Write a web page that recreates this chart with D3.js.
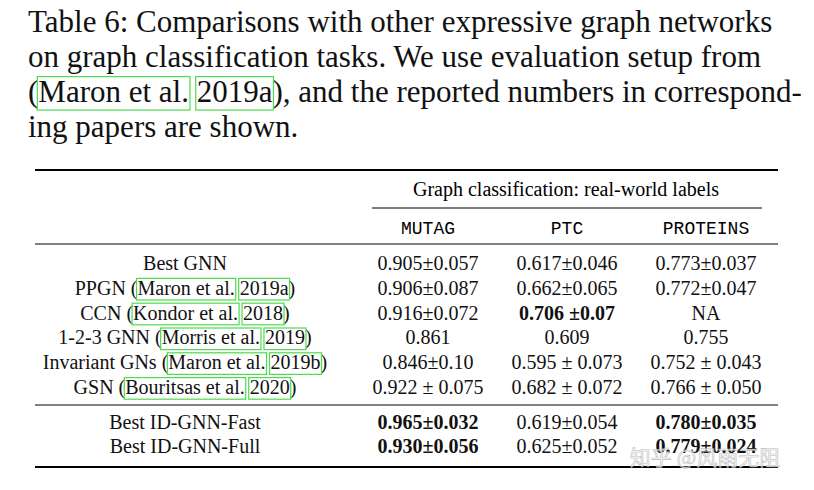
<!DOCTYPE html>
<html><head><meta charset="utf-8">
<script src="https://cdn.jsdelivr.net/npm/d3@7"></script>
<style>body{margin:0;background:#fff}</style>
</head><body>
<script>
const captionLines = [
  [["Table 6: Comparisons with other expressive graph networks",0]],
  [["on graph classification tasks. We use evaluation setup from",0]],
  [["(",0],["Maron et al.",1],[" ",0],["2019a",1],["), and the reported numbers in correspond-",0]],
  [["ing papers are shown.",0]]
];
const groupHeader = "Graph classification: real-world labels";
const columns = ["MUTAG","PTC","PROTEINS"];
const rowLabels = [
  [["Best GNN",0]],
  [["PPGN (",0],["Maron et al.",1],[" ",0],["2019a",1],[")",0]],
  [["CCN (",0],["Kondor et al.",1],[" ",0],["2018",1],[")",0]],
  [["1-2-3 GNN (",0],["Morris et al.",1],[" ",0],["2019",1],[")",0]],
  [["Invariant GNs (",0],["Maron et al.",1],[" ",0],["2019b",1],[")",0]],
  [["GSN (",0],["Bouritsas et al.",1],[" ",0],["2020",1],[")",0]],
  [["Best ID-GNN-Fast",0]],
  [["Best ID-GNN-Full",0]]
];
const mutag = ["0.905±0.057","0.906±0.087","0.916±0.072","0.861","0.846±0.10","0.922 ± 0.075","0.965±0.032","0.930±0.056"];
const ptc = ["0.617±0.046","0.662±0.065","0.706 ±0.07","0.609","0.595 ± 0.073","0.682 ± 0.072","0.619±0.054","0.625±0.052"];
const proteins = ["0.773±0.037","0.772±0.047","NA","0.755","0.752 ± 0.043","0.766 ± 0.050","0.780±0.035","0.779±0.024"];
const boldCells = [[6,0],[7,0],[2,1],[6,2],[7,2]];

const W=814,H=490;
const svg=d3.select("body").append("svg").attr("width",W).attr("height",H);
const serif="'Liberation Serif','Times New Roman',serif";
const green="#4ddc4d";

function richText(parts,x,y,size,anchor){
  const t=svg.append("text").attr("x",x).attr("y",y).attr("font-family",serif)
    .attr("font-size",size).attr("fill","#111").attr("text-anchor",anchor);
  parts.forEach(p=>t.append("tspan").text(p[0]));
  const node=t.node();
  const total=node.getComputedTextLength();
  const x0=anchor==="middle"?x-total/2:x;
  let off=0;
  parts.forEach(p=>{
    const len=p[0].length;
    if(p[1]){
      const sx=off>0?node.getSubStringLength(0,off):0;
      const w=node.getSubStringLength(off,len);
      svg.append("rect").attr("x",x0+sx-1).attr("y",y-size*0.82).attr("width",w+2)
        .attr("height",size*1.08).attr("fill","none").attr("stroke",green).attr("stroke-width",1.2);
    }
    off+=len;
  });
}

captionLines.forEach((l,i)=>richText(l,28,32+i*35,31,"start"));

const xL=35,xR=778;
svg.append("line").attr("x1",xL).attr("x2",xR).attr("y1",170).attr("y2",170).attr("stroke","#000").attr("stroke-width",2);
svg.append("text").attr("x",566).attr("y",196).attr("text-anchor","middle").attr("font-family",serif).attr("font-size",20).text(groupHeader);
svg.append("line").attr("x1",372).attr("x2",762).attr("y1",208).attr("y2",208).attr("stroke","#000").attr("stroke-width",1);

const xCol=d3.scalePoint().domain(columns).range([428,706]);
svg.selectAll(".ch").data(columns).enter().append("text").attr("x",d=>xCol(d)).attr("y",234)
  .attr("text-anchor","middle").attr("font-family","'Liberation Mono','DejaVu Sans Mono',monospace").attr("font-size",18).text(d=>d);
svg.append("line").attr("x1",xL).attr("x2",xR).attr("y1",244).attr("y2",244).attr("stroke","#000").attr("stroke-width",1);

const rowY=d3.scaleLinear().domain([0,5]).range([270,394]);
function yOf(i){return i<6?rowY(i):429+(i-6)*24;}
svg.append("line").attr("x1",xL).attr("x2",xR).attr("y1",405).attr("y2",405).attr("stroke","#000").attr("stroke-width",1);
svg.append("line").attr("x1",xL).attr("x2",xR).attr("y1",467).attr("y2",467).attr("stroke","#000").attr("stroke-width",2);

const cols=[mutag,ptc,proteins];
rowLabels.forEach((parts,i)=>{
  richText(parts,185,yOf(i),20,"middle");
  cols.forEach((arr,j)=>{
    const b=boldCells.some(c=>c[0]===i&&c[1]===j);
    svg.append("text").attr("x",xCol(columns[j])).attr("y",yOf(i)).attr("text-anchor","middle")
      .attr("font-family",serif).attr("font-size",20).attr("font-weight",b?"bold":"normal").attr("fill","#111").text(arr[i]);
  });
});

svg.append("text").attr("x",705).attr("y",465).attr("text-anchor","middle").attr("font-family","'Noto Sans CJK SC',sans-serif")
  .attr("font-size",21).attr("fill","#fff").attr("stroke","#aaa").attr("stroke-width",0.6).attr("opacity",0.8).text("知乎 @风雨无阻");
</script>
</body></html>
